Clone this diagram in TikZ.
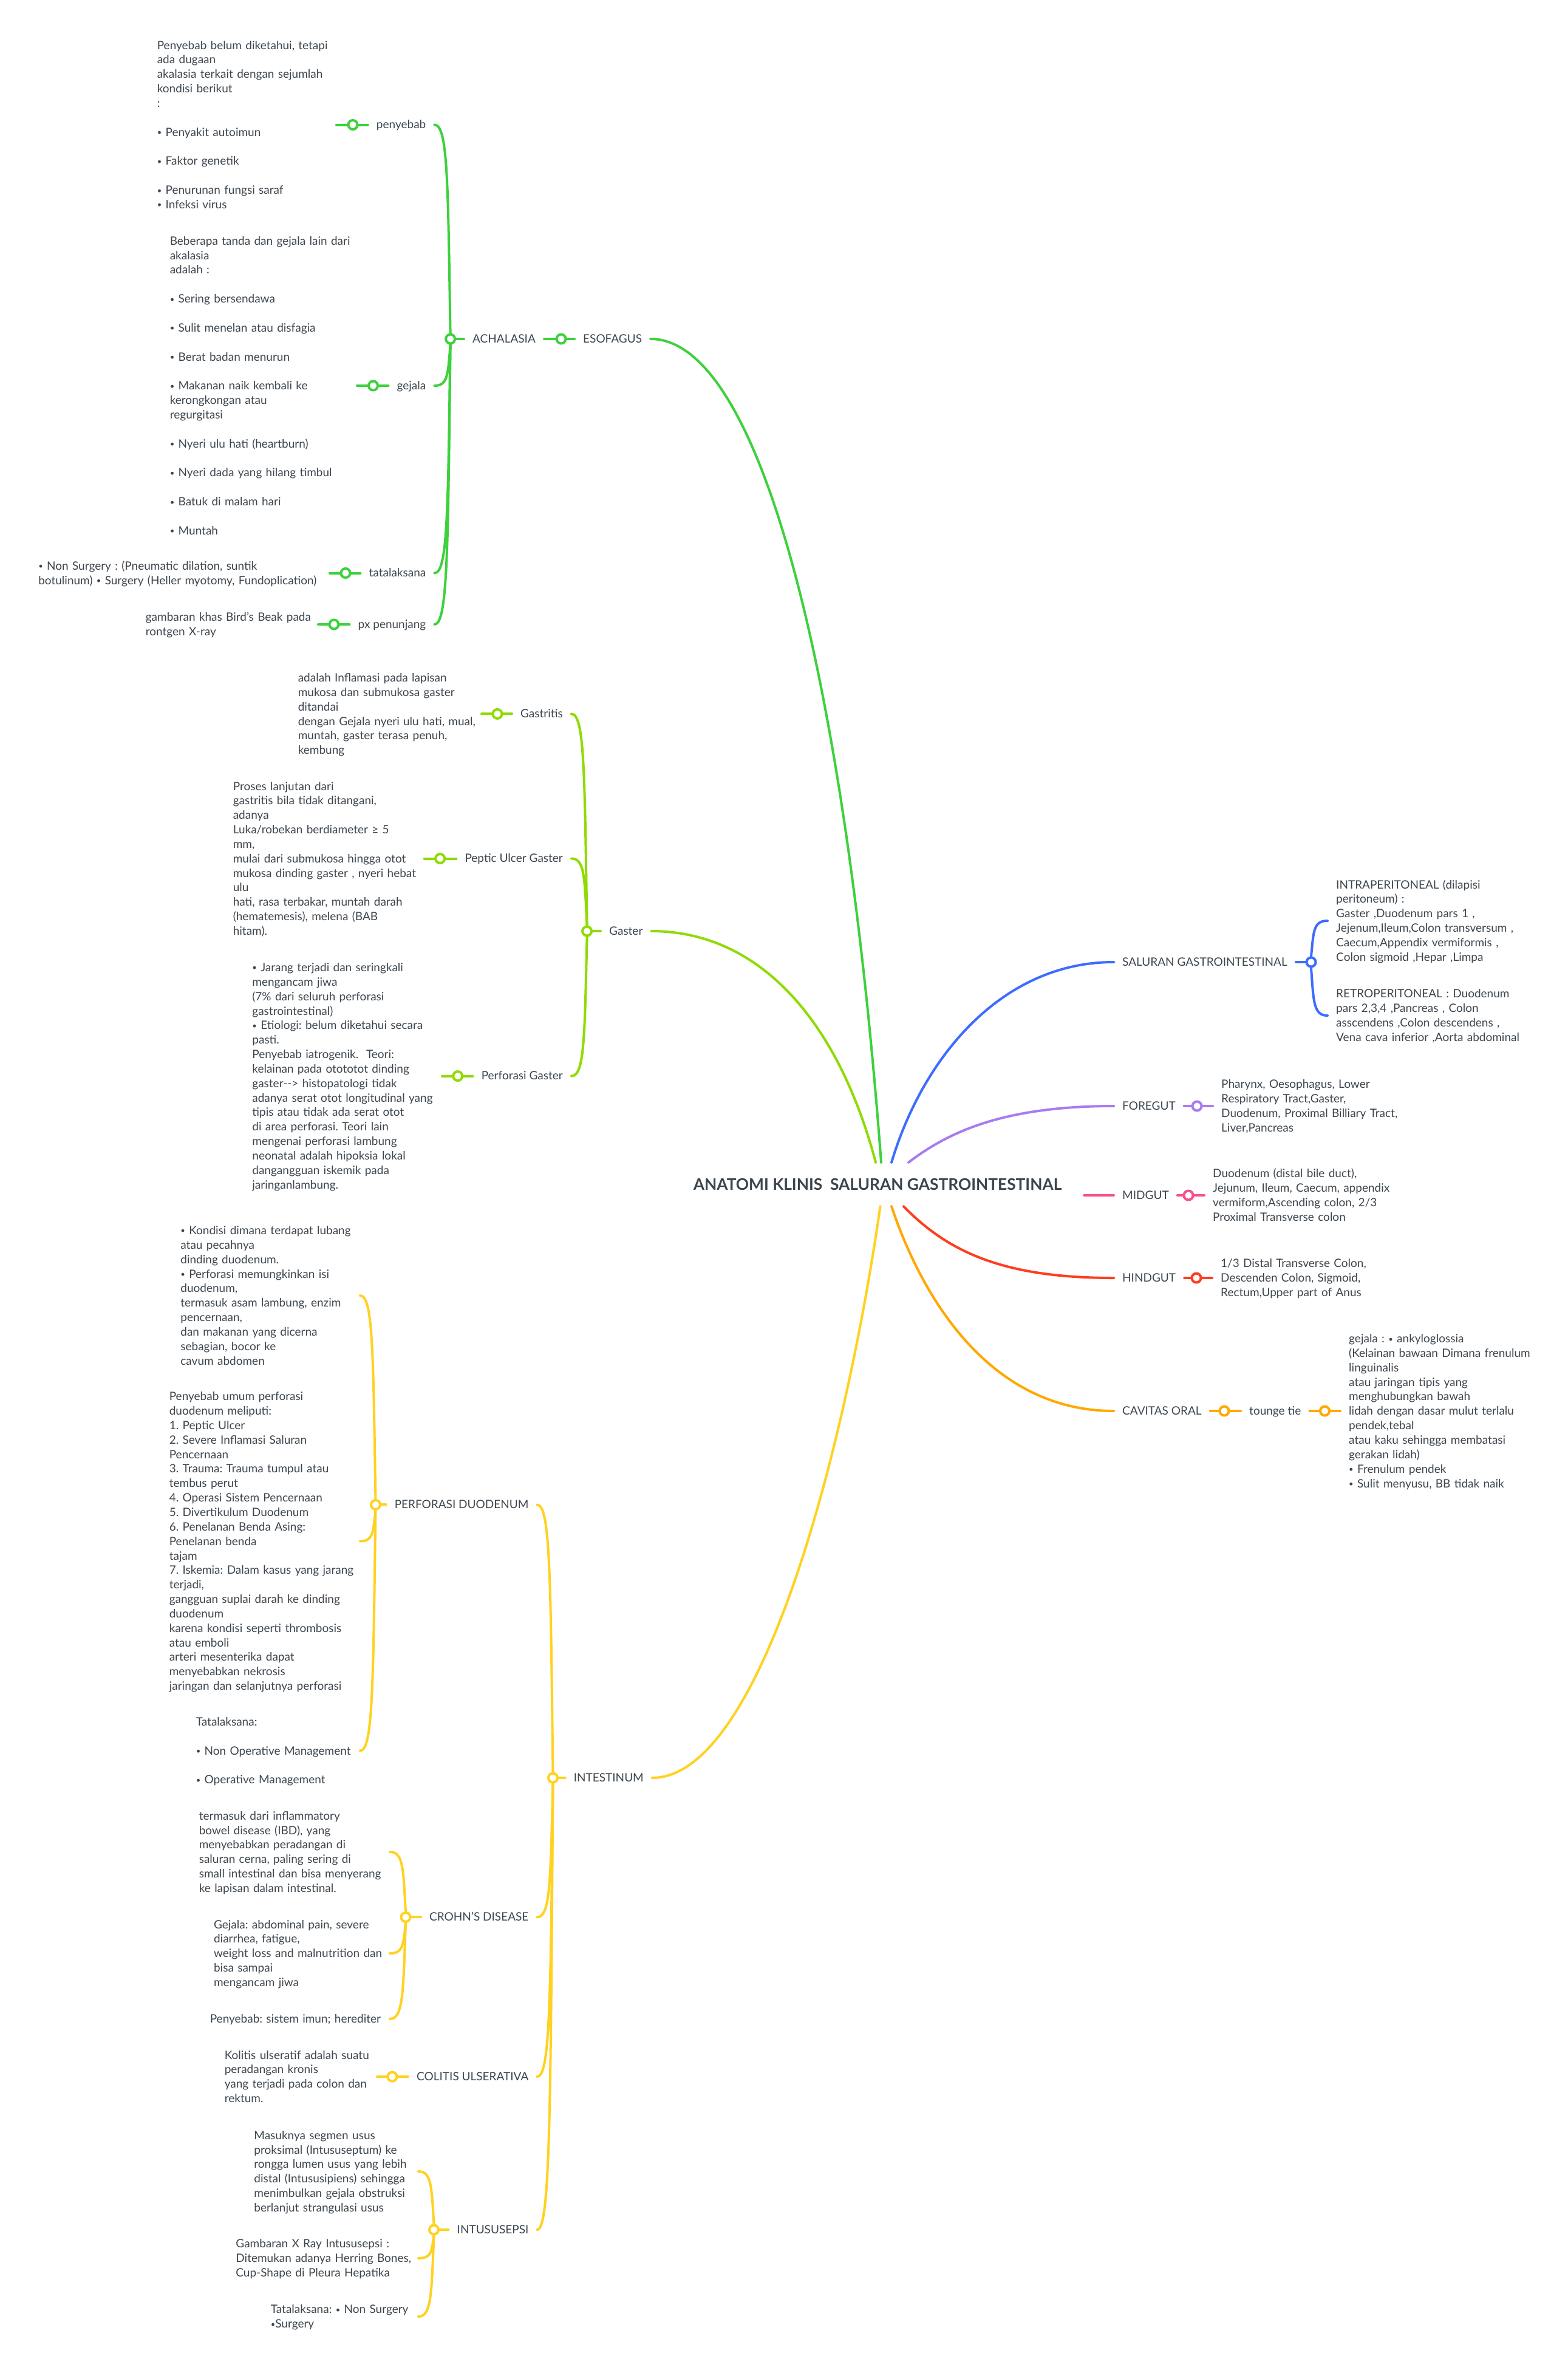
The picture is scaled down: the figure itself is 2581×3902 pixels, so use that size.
\documentclass[tikz,border=0pt]{standalone}
\usepackage{fontspec}
\setmainfont{Lato}
\usetikzlibrary{calc}
\definecolor{inktext}{HTML}{3C454D}
\definecolor{cgreen}{HTML}{3DD13D}
\definecolor{clime}{HTML}{8FDB00}
\definecolor{cyellow}{HTML}{FFD221}
\definecolor{corange}{HTML}{FFA800}
\definecolor{cred}{HTML}{FF3D1F}
\definecolor{cpink}{HTML}{F7508C}
\definecolor{cpurple}{HTML}{A67CF0}
\definecolor{cblue}{HTML}{3D6CFF}
\newcommand{\blank}{\\[23.85pt]}
\newcommand{\leafstrut}{\rule[-5pt]{0pt}{23.5pt}}
\newcommand{\bu}{\raisebox{1.5pt}{\fontsize{13}{13}\selectfont •}}
\tikzset{
  wire/.style={line width=4pt,line cap=round},
  dot/.style={circle,draw,fill=white,line width=4pt,minimum size=15pt,inner sep=0pt},
  topic/.style={font=\fontsize{19}{23.85}\selectfont\frenchspacing,text=inktext,inner xsep=14pt,inner ysep=0pt,text height=16pt,text depth=4pt},
  leaf/.style={font=\fontsize{19}{23.85}\selectfont\frenchspacing,text=inktext,align=left,inner xsep=0pt,inner ysep=0pt,anchor=east,execute at begin node=\leafstrut,execute at end node=\leafstrut},
  rleaf/.style={leaf,inner xsep=14pt,anchor=west,text width=360pt},
  branch/.style={to path={.. controls ($(\tikztostart)!0.72!(\tikztostart|-\tikztotarget)+(#1,0)$) and ($(\tikztostart|-\tikztotarget)+(#1,0)$) .. (\tikztotarget)}},
  branch/.default=-4
}
\begin{document}
\begin{tikzpicture}[x=1pt,y=-1pt]
\useasboundingbox (0,0) rectangle (2581,3902);
% centre
\node[font=\fontsize{26.3}{32}\selectfont\bfseries,text=inktext,minimum width=680pt,minimum height=72pt,inner sep=0pt] (root) at (1445,1950) {ANATOMI KLINIS\ \ SALURAN GASTROINTESTINAL};

% esofagus
\node[topic,anchor=west] (esofagus) at (946,558) {ESOFAGUS};
\node[cgreen,dot] (esofagusdot) at (924,558) {};
\node[topic,anchor=west] (achalasia) at (764,558) {ACHALASIA};
\node[cgreen,dot] (achalasiadot) at (741.6,558) {};
\node[topic,anchor=east] (penyebab) at (715.5,205.5) {penyebab};
\node[cgreen,dot] (penyebabdot) at (581,205.5) {};
\node[leaf,text width=295pt] (penyebabtext) at (554,205.5) {Penyebab belum diketahui, tetapi\\ada dugaan\\akalasia terkait dengan sejumlah\\kondisi berikut\\:\blank \bu{} Penyakit autoimun\blank \bu{} Faktor genetik\blank \bu{} Penurunan fungsi saraf\\\bu{} Infeksi virus};
\node[topic,anchor=east] (gejala) at (715.5,635) {gejala};
\node[cgreen,dot] (gejaladot) at (614.5,635) {};
\node[leaf,text width=308pt] (gejalatext) at (588,635) {Beberapa tanda dan gejala lain dari\\akalasia\\adalah :\blank \bu{} Sering bersendawa\blank \bu{} Sulit menelan atau disfagia\blank \bu{} Berat badan menurun\blank \bu{} Makanan naik kembali ke\\kerongkongan atau\\regurgitasi\blank \bu{} Nyeri ulu hati (heartburn)\blank \bu{} Nyeri dada yang hilang timbul\blank \bu{} Batuk di malam hari\blank \bu{} Muntah};
\node[topic,anchor=east] (tatalaksana) at (715.5,943.5) {tatalaksana};
\node[cgreen,dot] (tatalaksanadot) at (569,943.5) {};
\node[leaf,text width=479.5pt] (tatalaksanatext) at (543,943.5) {\bu{} Non Surgery : (Pneumatic dilation, suntik\\botulinum) \bu{} Surgery (Heller myotomy, Fundoplication)};
\node[topic,anchor=east] (penunjang) at (715.5,1028) {px penunjang};
\node[cgreen,dot] (penunjangdot) at (550,1028) {};
\node[leaf,text width=284pt] (penunjangtext) at (524,1028) {gambaran khas Bird's Beak pada\\rontgen X-ray};
\draw[wire,cgreen] (esofagus.east) .. controls (1250,558) and (1390,1100) .. ([xshift=6pt]root.north);
\draw[wire,cgreen] (esofagus) -- (esofagusdot) -- (achalasia);
\draw[wire,cgreen] (achalasia) -- (achalasiadot);
\draw[wire,cgreen,branch] (achalasiadot.north) to (penyebab.east);
\draw[wire,cgreen,branch] (achalasiadot.south) to (gejala.east);
\draw[wire,cgreen,branch] (achalasiadot.south) to (tatalaksana.east);
\draw[wire,cgreen,branch] (achalasiadot.south) to (penunjang.east);
\draw[wire,cgreen] (penyebabtext) -- (penyebabdot) -- (penyebab);
\draw[wire,cgreen] (gejalatext) -- (gejaladot) -- (gejala);
\draw[wire,cgreen] (tatalaksanatext) -- (tatalaksanadot) -- (tatalaksana);
\draw[wire,cgreen] (penunjangtext) -- (penunjangdot) -- (penunjang);

% gaster
\node[topic,anchor=west] (gaster) at (989,1533) {Gaster};
\node[clime,dot] (gasterdot) at (966.6,1533) {};
\node[topic,anchor=east] (gastritis) at (941,1175.4) {Gastritis};
\node[clime,dot] (gastritisdot) at (819,1175.4) {};
\node[leaf,text width=302pt] (gastritistext) at (793,1175.4) {adalah Inflamasi pada lapisan\\mukosa dan submukosa gaster\\ditandai\\dengan Gejala nyeri ulu hati, mual,\\muntah, gaster terasa penuh,\\kembung};
\node[topic,anchor=east] (peptic) at (941,1413.5) {Peptic Ulcer Gaster};
\node[clime,dot] (pepticdot) at (724.7,1413.5) {};
\node[leaf,text width=314.7pt] (peptictext) at (698.7,1413.5) {Proses lanjutan dari\\gastritis bila tidak ditangani,\\adanya\\Luka/robekan berdiameter ≥ 5\\mm,\\mulai dari submukosa hingga otot\\mukosa dinding gaster , nyeri hebat\\ulu\\hati, rasa terbakar, muntah darah\\(hematemesis), melena (BAB\\hitam).};
\node[topic,anchor=east] (perforasig) at (941,1771.6) {Perforasi Gaster};
\node[clime,dot] (perforasigdot) at (753.8,1771.6) {};
\node[leaf,text width=312.2pt] (perforasigtext) at (727.8,1771.6) {\bu{} Jarang terjadi dan seringkali\\mengancam jiwa\\(7\% dari seluruh perforasi\\gastrointestinal)\\\bu{} Etiologi: belum diketahui secara\\pasti.\\Penyebab iatrogenik.\ \ Teori:\\kelainan pada otototot dinding\\gaster-{}-> histopatologi tidak\\adanya serat otot longitudinal yang\\tipis atau tidak ada serat otot\\di area perforasi. Teori lain\\mengenai perforasi lambung\\neonatal adalah hipoksia lokal\\dangangguan iskemik pada\\jaringanlambung.};
\draw[wire,clime] (gaster.east) .. controls (1250,1533) and (1380,1680) .. ([xshift=-3pt]root.north);
\draw[wire,clime] (gaster) -- (gasterdot);
\draw[wire,clime,branch] (gasterdot.north) to (gastritis.east);
\draw[wire,clime,branch] (gasterdot.north) to (peptic.east);
\draw[wire,clime,branch] (gasterdot.south) to (perforasig.east);
\draw[wire,clime] (gastritistext) -- (gastritisdot) -- (gastritis);
\draw[wire,clime] (peptictext) -- (pepticdot) -- (peptic);
\draw[wire,clime] (perforasigtext) -- (perforasigdot) -- (perforasig);

% intestinum
\node[topic,anchor=east] (intestinum) at (1074,2927) {INTESTINUM};
\node[cyellow,dot] (intestinumdot) at (910.5,2927) {};
\node[topic,anchor=east] (perforasid) at (884.5,2477.4) {PERFORASI DUODENUM};
\node[cyellow,dot] (perforasiddot) at (618.4,2477.4) {};
\node[leaf,text width=295.4pt] (kondisi) at (593,2133) {\bu{} Kondisi dimana terdapat lubang\\atau pecahnya\\dinding duodenum.\\\bu{} Perforasi memungkinkan isi\\duodenum,\\termasuk asam lambung, enzim\\pencernaan,\\dan makanan yang dicerna\\sebagian, bocor ke\\cavum abdomen};
\node[leaf,text width=314pt] (umum) at (593,2537.4) {Penyebab umum perforasi\\duodenum meliputi:\\1. Peptic Ulcer\\2. Severe Inflamasi Saluran\\Pencernaan\\3. Trauma: Trauma tumpul atau\\tembus perut\\4. Operasi Sistem Pencernaan\\5. Divertikulum Duodenum\\6. Penelanan Benda Asing:\\Penelanan benda\\tajam\\7. Iskemia: Dalam kasus yang jarang\\terjadi,\\gangguan suplai darah ke dinding\\duodenum\\karena kondisi seperti thrombosis\\atau emboli\\arteri mesenterika dapat\\menyebabkan nekrosis\\jaringan dan selanjutnya perforasi};
\node[leaf,text width=270pt] (operative) at (593,2882.4) {Tatalaksana:\blank \bu{} Non Operative Management\blank \bu{} Operative Management};
\node[topic,anchor=east] (crohn) at (884.5,3156.4) {CROHN'S DISEASE};
\node[cyellow,dot] (crohndot) at (668,3156.4) {};
\node[leaf,text width=314pt] (crohnibd) at (642,3049) {termasuk dari inflammatory\\bowel disease (IBD), yang\\menyebabkan peradangan di\\saluran cerna, paling sering di\\small intestinal dan bisa menyerang\\ke lapisan dalam intestinal.};
\node[leaf,text width=289.7pt] (crohngejala) at (642,3216) {Gejala: abdominal pain, severe\\diarrhea, fatigue,\\weight loss and malnutrition dan\\bisa sampai\\mengancam jiwa};
\node[leaf,text width=296pt] (crohnsebab) at (642,3324) {Penyebab: sistem imun; herediter};
\node[topic,anchor=east] (colitis) at (884.5,3419) {COLITIS ULSERATIVA};
\node[cyellow,dot] (colitisdot) at (646,3419) {};
\node[leaf,text width=251pt] (colitistext) at (621,3419) {Kolitis ulseratif adalah suatu\\peradangan kronis\\yang terjadi pada colon dan\\rektum.};
\node[topic,anchor=east] (intususepsi) at (884.5,3671) {INTUSUSEPSI};
\node[cyellow,dot] (intususepsidot) at (714.5,3671) {};
\node[leaf,text width=270.4pt] (masuknya) at (689,3575) {Masuknya segmen usus\\proksimal (Intususeptum) ke\\rongga lumen usus yang lebih\\distal (Intususipiens) sehingga\\menimbulkan gejala obstruksi\\berlanjut strangulasi usus};
\node[leaf,text width=300.4pt] (xray) at (689,3718) {Gambaran X Ray Intususepsi :\\Ditemukan adanya Herring Bones,\\Cup-Shape di Pleura Hepatika};
\node[leaf,text width=243pt] (nonsurgery) at (689,3814) {Tatalaksana: \bu{} Non Surgery\\\bu{}Surgery};
\draw[wire,cyellow] (intestinum.east) .. controls (1250,2927) and (1390,2400) .. ([xshift=4.5pt]root.south);
\draw[wire,cyellow] (intestinum) -- (intestinumdot);
\draw[wire,cyellow,branch] (intestinumdot.north) to (perforasid.east);
\draw[wire,cyellow,branch] (intestinumdot.south) to (crohn.east);
\draw[wire,cyellow,branch] (intestinumdot.south) to (colitis.east);
\draw[wire,cyellow,branch] (intestinumdot.south) to (intususepsi.east);
\draw[wire,cyellow] (perforasid) -- (perforasiddot);
\draw[wire,cyellow,branch] (perforasiddot.north) to (kondisi.east);
\draw[wire,cyellow,branch] (perforasiddot.south) to (umum.east);
\draw[wire,cyellow,branch] (perforasiddot.south) to (operative.east);
\draw[wire,cyellow] (crohn) -- (crohndot);
\draw[wire,cyellow,branch] (crohndot.north) to (crohnibd.east);
\draw[wire,cyellow,branch] (crohndot.south) to (crohngejala.east);
\draw[wire,cyellow,branch] (crohndot.south) to (crohnsebab.east);
\draw[wire,cyellow] (colitistext) -- (colitisdot) -- (colitis);
\draw[wire,cyellow] (intususepsi) -- (intususepsidot);
\draw[wire,cyellow,branch] (intususepsidot.north) to (masuknya.east);
\draw[wire,cyellow,branch] (intususepsidot.south) to (xray.east);
\draw[wire,cyellow,branch] (intususepsidot.south) to (nonsurgery.east);

% right side
\node[topic,anchor=west] (saluran) at (1834,1584) {SALURAN GASTROINTESTINAL};
\node[cblue,dot] (salurandot) at (2159,1584) {};
\node[rleaf] (intra) at (2186,1516) {INTRAPERITONEAL (dilapisi\\peritoneum) :\\Gaster ,Duodenum pars 1 ,\\Jejenum,Ileum,Colon transversum ,\\Caecum,Appendix vermiformis ,\\Colon sigmoid ,Hepar ,Limpa};
\node[rleaf] (retro) at (2186,1672) {RETROPERITONEAL : Duodenum\\pars 2,3,4 ,Pancreas , Colon\\asscendens ,Colon descendens ,\\Vena cava inferior ,Aorta abdominal};
\draw[wire,cblue] (saluran.west) .. controls (1650,1584) and (1520,1740) .. ([xshift=23pt]root.north);
\draw[wire,cblue] (saluran) -- (salurandot);
\draw[wire,cblue,branch=4] (salurandot.north) to (intra.west);
\draw[wire,cblue,branch=4] (salurandot.south) to (retro.west);

\node[topic,anchor=west] (foregut) at (1834,1821) {FOREGUT};
\node[cpurple,dot] (foregutdot) at (1971,1821) {};
\node[rleaf] (foreguttext) at (1997,1821) {Pharynx, Oesophagus, Lower\\Respiratory Tract,Gaster,\\Duodenum, Proximal Billiary Tract,\\Liver,Pancreas};
\draw[wire,cpurple] (foregut.west) .. controls (1650,1821) and (1560,1865) .. ([xshift=51pt]root.north);
\draw[wire,cpurple] (foregut) -- (foregutdot) -- (foreguttext);

\node[topic,anchor=west] (midgut) at (1834,1968) {MIDGUT};
\node[cpink,dot] (midgutdot) at (1957,1968) {};
\node[rleaf] (midguttext) at (1983,1968) {Duodenum (distal bile duct),\\Jejunum, Ileum, Caecum, appendix\\vermiform,Ascending colon, 2/3\\Proximal Transverse colon};
\draw[wire,cpink] ([yshift=-18pt]root.east) -- (midgut.west);
\draw[wire,cpink] (midgut) -- (midgutdot) -- (midguttext);

\node[topic,anchor=west] (hindgut) at (1834,2104) {HINDGUT};
\node[cred,dot] (hindgutdot) at (1970,2104) {};
\node[rleaf] (hindguttext) at (1996,2104) {1/3 Distal Transverse Colon,\\Descenden Colon, Sigmoid,\\Rectum,Upper part of Anus};
\draw[wire,cred] (hindgut.west) .. controls (1650,2104) and (1560,2060) .. ([xshift=43pt]root.south);
\draw[wire,cred] (hindgut) -- (hindgutdot) -- (hindguttext);

\node[topic,anchor=west] (cavitas) at (1834,2323) {CAVITAS ORAL};
\node[corange,dot] (cavitasdot) at (2016,2323) {};
\node[topic,anchor=west] (tounge) at (2043,2323) {tounge tie};
\node[corange,dot] (toungedot) at (2181.5,2323) {};
\node[rleaf] (toungetext) at (2207,2323) {gejala : \bu{} ankyloglossia\\(Kelainan bawaan Dimana frenulum\\linguinalis\\atau jaringan tipis yang\\menghubungkan bawah\\lidah dengan dasar mulut terlalu\\pendek,tebal\\atau kaku sehingga membatasi\\gerakan lidah)\\\bu{} Frenulum pendek\\\bu{} Sulit menyusu, BB tidak naik};
\draw[wire,corange] (cavitas.west) .. controls (1650,2323) and (1530,2170) .. ([xshift=23pt]root.south);
\draw[wire,corange] (cavitas) -- (cavitasdot) -- (tounge) -- (toungedot) -- (toungetext);
\end{tikzpicture}
\end{document}
